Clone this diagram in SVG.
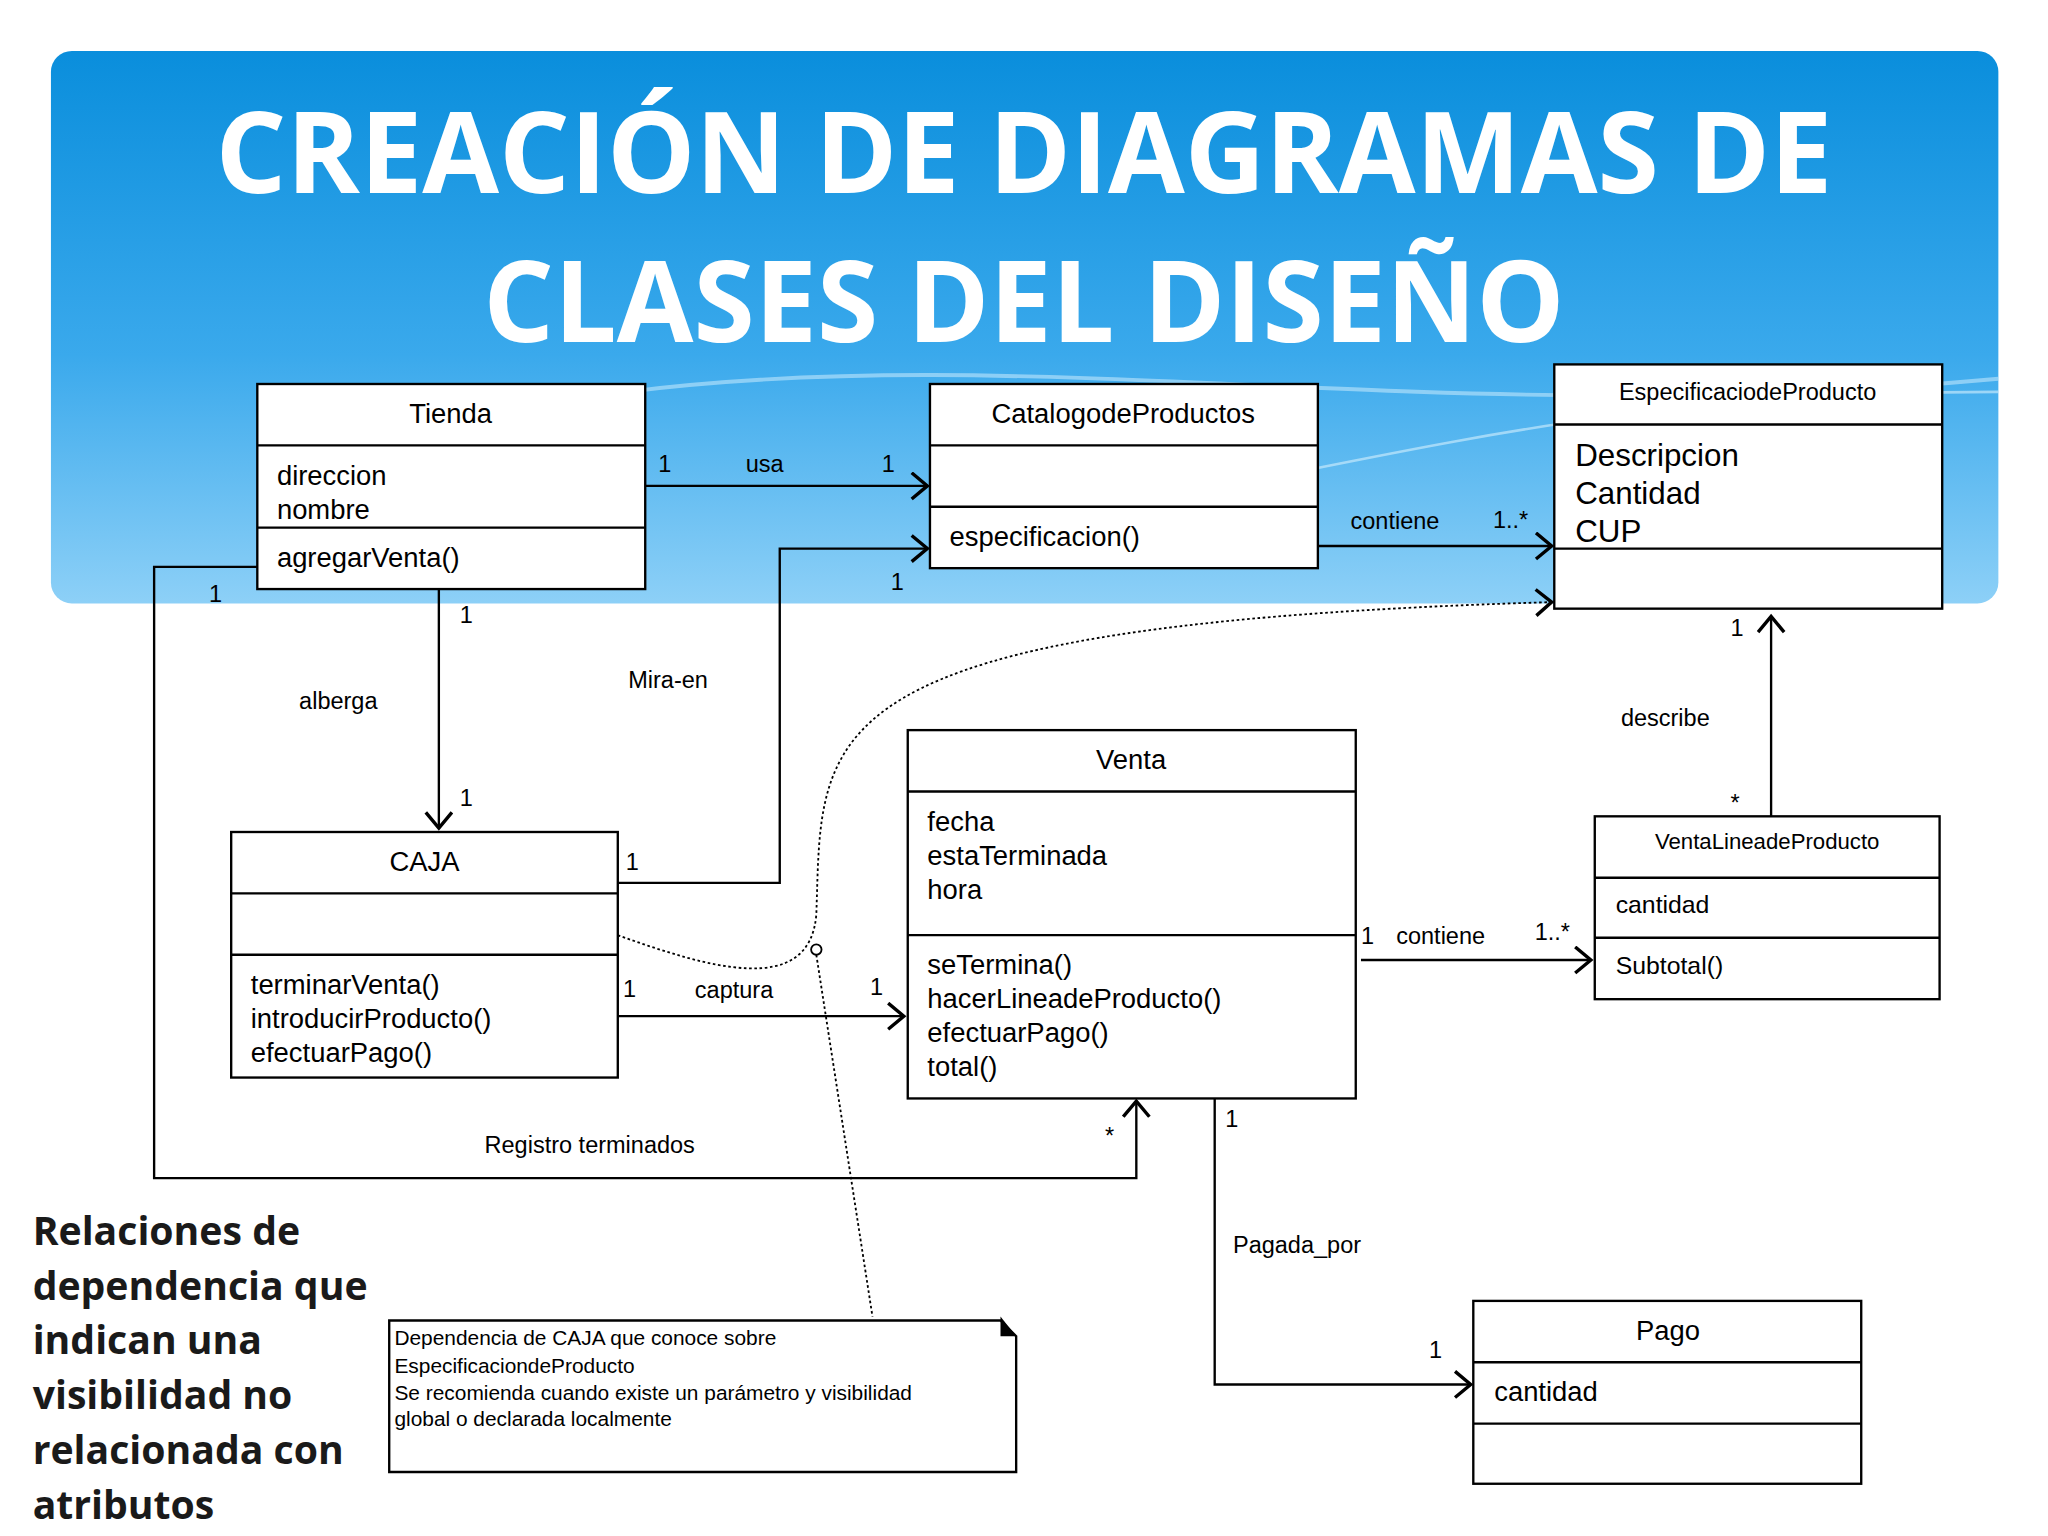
<svg xmlns="http://www.w3.org/2000/svg" width="2048" height="1536" viewBox="0 0 2048 1536">
<defs>
<linearGradient id="hg" x1="0" y1="0" x2="0" y2="1">
<stop offset="0" stop-color="#0a8edc"/><stop offset="0.55" stop-color="#3aa9ec"/><stop offset="1" stop-color="#8dd0f7"/>
</linearGradient>
<marker id="ar" markerUnits="userSpaceOnUse" markerWidth="20" markerHeight="26" refX="14" refY="11" orient="auto">
<path d="M2,1 L14,11 L2,21" fill="none" stroke="#000" stroke-width="2.6"/>
</marker>
<style>
.b{fill:#fff;stroke:#000;stroke-width:1.8}
.t{font-family:"Liberation Sans",Arial,sans-serif;font-size:21px;fill:#000}
.s{font-size:18px}
.c{text-anchor:middle}
.l{fill:none;stroke:#000;stroke-width:1.8}
.d{fill:none;stroke:#000;stroke-width:1.4;stroke-dasharray:2 2}
.h{font-family:"Open Sans",sans-serif;font-weight:bold;fill:#fff;font-size:86px;text-anchor:middle}
.r{font-family:"Open Sans",sans-serif;font-weight:bold;fill:#1a1a1a;font-size:30px}
</style>
</defs>
<rect width="2048" height="1536" fill="#fff"/>
<g transform="scale(1.30612)">
<rect x="39" y="39" width="1491" height="423" rx="16" fill="url(#hg)"/>
<path d="M480,300 C800,260 1100,330 1530,290" fill="none" stroke="#bfe6fb" stroke-width="3" opacity="0.6"/>
<path d="M1000,360 C1150,330 1300,300 1530,300" fill="none" stroke="#d6f0fd" stroke-width="2" opacity="0.6"/>
<text class="h" x="784" y="148" textLength="1238" lengthAdjust="spacingAndGlyphs">CREACIÓN DE DIAGRAMAS DE</text>
<text class="h" x="784" y="262" textLength="828" lengthAdjust="spacingAndGlyphs">CLASES DEL DISEÑO</text>

<g id="connectors">
<path class="l" d="M494,372 H710" marker-end="url(#ar)"/>
<path class="l" d="M473,676 H597 V420 H710" marker-end="url(#ar)"/>
<path class="l" d="M1009,418 H1188" marker-end="url(#ar)"/>
<path class="d" d="M473,716 C540,740 620,765 625,700 C630,560 610,478 1188,461" marker-end="url(#ar)"/>
<circle cx="625" cy="727" r="4" fill="#fff" stroke="#000" stroke-width="1.4"/>
<path class="d" d="M625,731 L668,1008"/>
<path class="l" d="M336,451 V634" marker-end="url(#ar)"/>
<path class="l" d="M473,778 H692" marker-end="url(#ar)"/>
<path class="l" d="M197,434 H118 V902 H870 V843" marker-end="url(#ar)"/>
<path class="l" d="M1042,735 H1218" marker-end="url(#ar)"/>
<path class="l" d="M1356,625 V472" marker-end="url(#ar)"/>
<path class="l" d="M930,841 V1060 H1126" marker-end="url(#ar)"/>
<g class="t s">
<text x="504" y="361">1</text><text x="571" y="361">usa</text><text x="675" y="361">1</text>
<text x="479" y="666">1</text><text x="682" y="452">1</text><text x="481" y="527">Mira-en</text>
<text x="1034" y="405">contiene</text><text x="1143" y="404">1..*</text>
<text x="352" y="477">1</text><text x="352" y="617">1</text><text x="229" y="543">alberga</text>
<text x="477" y="763">1</text><text x="532" y="764">captura</text><text x="666" y="762">1</text>
<text x="160" y="461">1</text><text x="846" y="876">*</text><text x="371" y="883">Registro terminados</text>
<text x="1042" y="723">1</text><text x="1069" y="723">contiene</text><text x="1175" y="720">1..*</text>
<text x="1325" y="487">1</text><text x="1325" y="621">*</text><text x="1241" y="556">describe</text>
<text x="938" y="863">1</text><text x="944" y="959">Pagada_por</text><text x="1094" y="1040">1</text>
</g>
</g>

<g id="tienda">
<rect class="b" x="197" y="294" width="297" height="157"/><path class="l" d="M197,341H494M197,404H494"/>
<text class="t c" x="345" y="324">Tienda</text>
<text class="t" x="212" y="371">direccion</text><text class="t" x="212" y="397">nombre</text>
<text class="t" x="212" y="434">agregarVenta()</text>
</g>
<g id="catalogo">
<rect class="b" x="712" y="294" width="297" height="141"/><path class="l" d="M712,341H1009M712,388H1009"/>
<text class="t c" x="860" y="324">CatalogodeProductos</text>
<text class="t" x="727" y="418">especificacion()</text>
</g>
<g id="especificacion">
<rect class="b" x="1190" y="279" width="297" height="187"/><path class="l" d="M1190,325H1487M1190,420H1487"/>
<text class="t s c" x="1338" y="306">EspecificaciodeProducto</text>
<text class="t" style="font-size:24px" x="1206" y="357">Descripcion</text>
<text class="t" style="font-size:24px" x="1206" y="386">Cantidad</text>
<text class="t" style="font-size:24px" x="1206" y="415">CUP</text>
</g>
<g id="caja">
<rect class="b" x="177" y="637" width="296" height="188"/><path class="l" d="M177,684H473M177,731H473"/>
<text class="t c" x="325" y="667">CAJA</text>
<text class="t" x="192" y="761">terminarVenta()</text><text class="t" x="192" y="787">introducirProducto()</text><text class="t" x="192" y="813">efectuarPago()</text>
</g>
<g id="venta">
<rect class="b" x="695" y="559" width="343" height="282"/><path class="l" d="M695,606H1038M695,716H1038"/>
<text class="t c" x="866" y="589">Venta</text>
<text class="t" x="710" y="636">fecha</text><text class="t" x="710" y="662">estaTerminada</text><text class="t" x="710" y="688">hora</text>
<text class="t" x="710" y="746">seTermina()</text><text class="t" x="710" y="772">hacerLineadeProducto()</text><text class="t" x="710" y="798">efectuarPago()</text><text class="t" x="710" y="824">total()</text>
</g>
<g id="ventalinea">
<rect class="b" x="1221" y="625" width="264" height="140"/><path class="l" d="M1221,672H1485M1221,718H1485"/>
<text class="t c" style="font-size:17px" x="1353" y="650">VentaLineadeProducto</text>
<text class="t" style="font-size:19px" x="1237" y="699">cantidad</text>
<text class="t" style="font-size:19px" x="1237" y="746">Subtotal()</text>
</g>
<g id="pago">
<rect class="b" x="1128" y="996" width="297" height="140"/><path class="l" d="M1128,1043H1425M1128,1090H1425"/>
<text class="t c" x="1277" y="1026">Pago</text>
<text class="t" x="1144" y="1073">cantidad</text>
</g>
<g id="nota">
<path class="b" d="M298,1011 H766 L778,1023 V1127 H298 Z"/>
<path d="M766,1008 L778,1023 L766,1023 Z" fill="#000"/>
<g class="t" style="font-size:16px">
<text x="302" y="1030">Dependencia de CAJA que conoce sobre</text>
<text x="302" y="1051">EspecificaciondeProducto</text>
<text x="302" y="1072">Se recomienda cuando existe un parámetro y visibilidad</text>
<text x="302" y="1092">global o declarada localmente</text>
</g>
</g>
<g id="texto">
<text class="r" x="25" y="953">Relaciones de</text>
<text class="r" x="25" y="995">dependencia que</text>
<text class="r" x="25" y="1037">indican una</text>
<text class="r" x="25" y="1079">visibilidad no</text>
<text class="r" x="25" y="1121">relacionada con</text>
<text class="r" x="25" y="1163">atributos</text>
</g>
</g>
</svg>
